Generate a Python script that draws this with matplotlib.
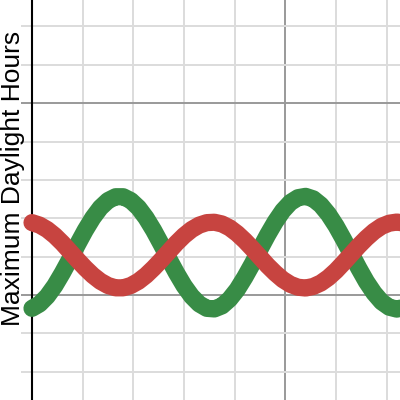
import matplotlib
matplotlib.use("Agg")
import matplotlib.pyplot as plt
from matplotlib.ticker import MultipleLocator
from matplotlib.patches import Rectangle

# Day of year (x) and daylight hours
days = [0, 15, 30, 45, 60, 75, 90, 105, 120, 135, 150, 165, 180, 195, 210,
        225, 240, 255, 270, 285, 300, 315, 330, 345, 360, 375, 390, 405, 420,
        435, 450, 465, 480, 495, 510, 525, 540, 555, 570, 585, 600, 615, 630,
        645, 660, 675, 690, 705, 720, 735]
north_hours = [9.30, 9.53, 9.93, 10.48, 11.15, 11.88, 12.64, 13.37, 14.02,
               14.55, 14.92, 15.12, 15.12, 14.92, 14.55, 14.02, 13.37, 12.64,
               11.88, 11.15, 10.48, 9.93, 9.53, 9.30, 9.27, 9.43, 9.78, 10.28,
               10.92, 11.63, 12.39, 13.13, 13.81, 14.39, 14.82, 15.07, 15.14,
               15.01, 14.69, 14.21, 13.60, 12.89, 12.14, 11.39, 10.69, 10.10,
               9.64, 9.36, 9.26, 9.36]
south_hours = [13.77, 13.64, 13.41, 13.09, 12.70, 12.26, 11.82, 11.40, 11.02,
               10.71, 10.49, 10.37, 10.37, 10.49, 10.71, 11.02, 11.40, 11.82,
               12.26, 12.70, 13.09, 13.41, 13.64, 13.77, 13.79, 13.70, 13.50,
               13.20, 12.83, 12.41, 11.97, 11.53, 11.14, 10.80, 10.55, 10.40,
               10.36, 10.44, 10.62, 10.90, 11.26, 11.68, 12.12, 12.56, 12.96,
               13.31, 13.58, 13.74, 13.80, 13.74]
y_label = "Maximum Daylight Hours"

fig = plt.figure(figsize=(4, 4), dpi=100)
ax = fig.add_axes([0, 0, 1, 1])
ax.set_xlim(-63.2, 726.3)
ax.set_ylim(4.52, 25.38)

ax.xaxis.set_major_locator(MultipleLocator(500))
ax.xaxis.set_minor_locator(MultipleLocator(100))
ax.yaxis.set_major_locator(MultipleLocator(10))
ax.yaxis.set_minor_locator(MultipleLocator(2))
ax.grid(which='minor', color='#dcdcdc', lw=1.4)
ax.grid(which='major', color='#999999', lw=1.4)
ax.set_axisbelow(True)
ax.tick_params(which='both', length=0, labelleft=False, labelbottom=False)
for s in ax.spines.values():
    s.set_visible(False)

ax.axvline(0, color='black', lw=1.5, zorder=1.5)

ax.plot(days, north_hours, color='#388c46', lw=12.4,
        solid_capstyle='round', solid_joinstyle='round', zorder=3)
ax.plot(days, south_hours, color='#c74440', lw=12.4,
        solid_capstyle='round', solid_joinstyle='round', zorder=4)

fig.patches.append(Rectangle((0, 0), 21 / 400, 1, transform=fig.transFigure,
                             facecolor='white', edgecolor='none', zorder=5))
fig.text(20 / 400, 1 - 31 / 400, y_label, rotation=90, rotation_mode='anchor',
         ha='right', va='baseline', fontsize=19, family='Liberation Sans',
         color='black', zorder=6)

fig.savefig('out.png', dpi=100)
